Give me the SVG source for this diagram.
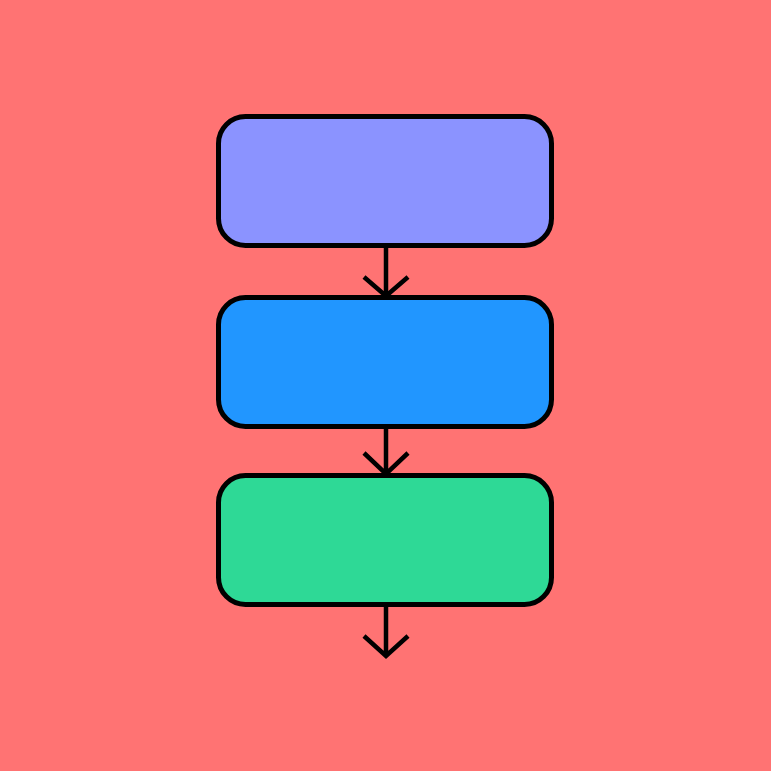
<svg xmlns="http://www.w3.org/2000/svg" width="771" height="771" viewBox="0 0 771 771">
<style>
.box{stroke:#000;stroke-width:5}
.con{fill:none;stroke:#000;stroke-width:4.5}
</style>
<rect width="771" height="771" fill="#FF7373"/>
<g id="connectors">
<path class="con" d="M386 245V296M364 277L386 296L408 277"/>
<path class="con" d="M386 426V474M364 453L386 474L408 453"/>
<path class="con" d="M386 604V656M364 636L386 656L408 636"/>
</g>
<g id="node1"><rect class="box" x="218.5" y="116.5" width="333" height="129" rx="27" fill="#8B93FF"/></g>
<g id="node2"><rect class="box" x="218.5" y="297.5" width="333" height="129" rx="27" fill="#2196FF"/></g>
<g id="node3"><rect class="box" x="218.5" y="475.5" width="333" height="129" rx="27" fill="#2ED996"/></g>
</svg>
